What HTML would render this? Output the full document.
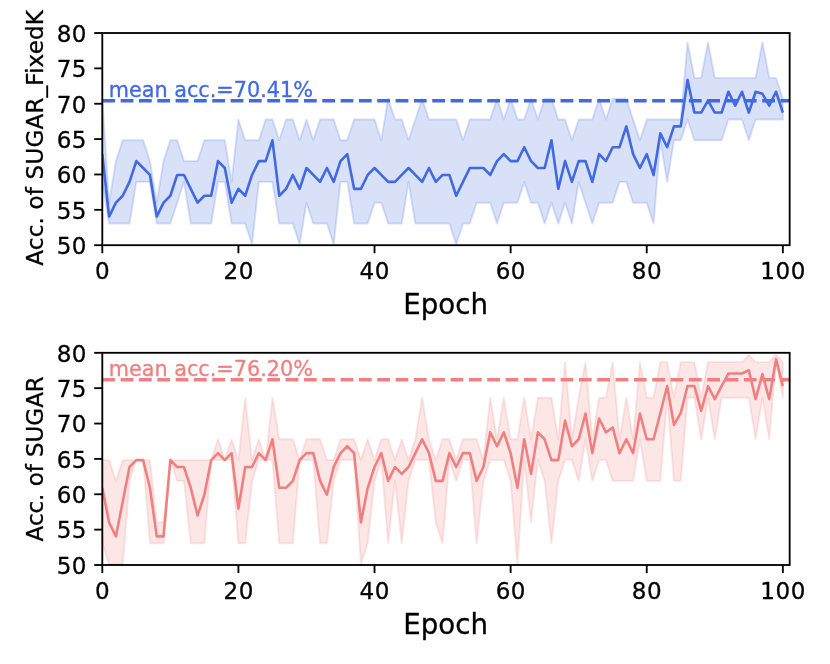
<!DOCTYPE html>
<html><head><meta charset="utf-8"><title>Accuracy</title>
<style>
html,body{margin:0;padding:0;background:#fff;}
svg{display:block;}
text{font-family:"DejaVu Sans","Liberation Sans",sans-serif;}
text.k{stroke:#000;stroke-width:0.3px;}
</style></head><body>
<svg width="830" height="664" viewBox="0 0 830 664">
<rect x="0" y="0" width="830" height="664" fill="#fff"/>
<clipPath id="c245"><rect x="102.30" y="33.01" width="687.36" height="212.19"/></clipPath>
<g clip-path="url(#c245)">
<polygon points="102.30,181.89 102.30,98.68 109.11,202.69 115.91,161.09 122.72,140.29 129.52,140.29 136.33,140.29 143.13,140.29 149.94,161.09 156.74,202.69 163.55,161.09 170.36,140.29 177.16,140.29 183.97,161.09 190.77,161.09 197.58,161.09 204.38,140.29 211.19,140.29 217.99,140.29 224.80,140.29 231.60,181.89 238.41,119.48 245.22,140.29 252.02,140.29 258.83,140.29 265.63,119.48 272.44,119.48 279.24,140.29 286.05,119.48 292.85,119.48 299.66,140.29 306.47,119.48 313.27,140.29 320.08,119.48 326.88,119.48 333.69,119.48 340.49,140.29 347.30,140.29 354.10,119.48 360.91,119.48 367.71,119.48 374.52,119.48 381.33,140.29 388.13,98.68 394.94,119.48 401.74,119.48 408.55,140.29 415.35,119.48 422.16,98.68 428.96,119.48 435.77,119.48 442.58,119.48 449.38,119.48 456.19,119.48 462.99,140.29 469.80,119.48 476.60,119.48 483.41,119.48 490.21,119.48 497.02,98.68 503.82,119.48 510.63,98.68 517.44,119.48 524.24,119.48 531.05,98.68 537.85,119.48 544.66,98.68 551.46,98.68 558.27,119.48 565.07,119.48 571.88,140.29 578.69,119.48 585.49,119.48 592.30,119.48 599.10,98.68 605.91,119.48 612.71,98.68 619.52,98.68 626.32,98.68 633.13,119.48 639.93,140.29 646.74,119.48 653.55,119.48 660.35,119.48 667.16,119.48 673.96,119.48 680.77,119.48 687.57,42.37 694.38,77.88 701.18,77.88 707.99,42.37 714.79,77.88 721.60,77.88 728.41,77.88 735.21,77.88 742.02,77.88 748.82,77.88 755.63,77.88 762.43,42.37 769.24,77.88 776.04,77.88 782.85,98.68 782.85,119.48 782.85,119.48 776.04,119.48 769.24,119.48 762.43,119.48 755.63,119.48 748.82,140.29 742.02,119.48 735.21,119.48 728.41,119.48 721.60,140.29 714.79,140.29 707.99,140.29 701.18,140.29 694.38,140.29 687.57,119.48 680.77,140.29 673.96,140.29 667.16,181.89 660.35,140.29 653.55,223.50 646.74,202.69 639.93,202.69 633.13,202.69 626.32,181.89 619.52,181.89 612.71,202.69 605.91,202.69 599.10,202.69 592.30,223.50 585.49,202.69 578.69,181.89 571.88,223.50 565.07,202.69 558.27,223.50 551.46,202.69 544.66,223.50 537.85,202.69 531.05,202.69 524.24,181.89 517.44,202.69 510.63,202.69 503.82,202.69 497.02,223.50 490.21,202.69 483.41,202.69 476.60,202.69 469.80,223.50 462.99,223.50 456.19,244.30 449.38,223.50 442.58,223.50 435.77,223.50 428.96,223.50 422.16,223.50 415.35,223.50 408.55,181.89 401.74,223.50 394.94,223.50 388.13,223.50 381.33,202.69 374.52,202.69 367.71,223.50 360.91,223.50 354.10,223.50 347.30,181.89 340.49,181.89 333.69,244.30 326.88,223.50 320.08,223.50 313.27,223.50 306.47,202.69 299.66,244.30 292.85,223.50 286.05,223.50 279.24,223.50 272.44,181.89 265.63,181.89 258.83,181.89 252.02,244.30 245.22,223.50 238.41,223.50 231.60,223.50 224.80,181.89 217.99,181.89 211.19,223.50 204.38,223.50 197.58,223.50 190.77,223.50 183.97,181.89 177.16,202.69 170.36,223.50 163.55,223.50 156.74,223.50 149.94,181.89 143.13,181.89 136.33,181.89 129.52,223.50 122.72,223.50 115.91,223.50 109.11,223.50 102.30,181.89" fill="#4169e1" fill-opacity="0.2" stroke="#4169e1" stroke-opacity="0.2" stroke-width="1.90" stroke-linejoin="round"/>
<polyline points="102.30,154.15 109.11,216.56 115.91,202.69 122.72,195.76 129.52,181.89 136.33,161.09 143.13,168.02 149.94,174.96 156.74,216.56 163.55,202.69 170.36,195.76 177.16,174.96 183.97,174.96 190.77,188.83 197.58,202.69 204.38,195.76 211.19,195.76 217.99,161.09 224.80,168.02 231.60,202.69 238.41,188.83 245.22,195.76 252.02,174.96 258.83,161.09 265.63,161.09 272.44,140.29 279.24,195.76 286.05,188.83 292.85,174.96 299.66,188.83 306.47,168.02 313.27,174.96 320.08,181.89 326.88,168.02 333.69,181.89 340.49,161.09 347.30,154.15 354.10,188.83 360.91,188.83 367.71,174.96 374.52,168.02 381.33,174.96 388.13,181.89 394.94,181.89 401.74,174.96 408.55,168.02 415.35,174.96 422.16,181.89 428.96,168.02 435.77,181.89 442.58,174.96 449.38,174.96 456.19,195.76 462.99,181.89 469.80,168.02 476.60,168.02 483.41,168.02 490.21,174.96 497.02,161.09 503.82,154.15 510.63,161.09 517.44,161.09 524.24,147.22 531.05,161.09 537.85,168.02 544.66,168.02 551.46,140.29 558.27,188.83 565.07,161.09 571.88,181.89 578.69,161.09 585.49,161.09 592.30,181.89 599.10,154.15 605.91,161.09 612.71,147.22 619.52,147.22 626.32,126.42 633.13,154.15 639.93,168.02 646.74,154.15 653.55,174.96 660.35,133.35 667.16,147.22 673.96,126.42 680.77,126.42 687.57,79.91 694.38,112.55 701.18,112.55 707.99,100.71 714.79,112.55 721.60,112.55 728.41,91.75 735.21,105.61 742.02,91.75 748.82,112.55 755.63,91.75 762.43,93.78 769.24,105.61 776.04,91.75 782.85,112.55" fill="none" stroke="#4169e1" stroke-width="2.60" stroke-linejoin="round" stroke-linecap="butt"/>
<line x1="102.30" y1="100.84" x2="789.66" y2="100.84" stroke="#4169e1" stroke-width="3.46" stroke-dasharray="12.8 5.53"/>
</g>
<text x="108.81" y="97.04" font-size="20.75" fill="#4169e1" stroke="#4169e1" stroke-width="0.3">mean acc.=70.41%</text>
<rect x="102.30" y="33.01" width="687.36" height="212.19" fill="none" stroke="#000" stroke-width="1.84" stroke-linejoin="miter"/>
<line x1="102.30" y1="245.20" x2="102.30" y2="253.27" stroke="#000" stroke-width="1.84"/>
<text class="k" x="102.55" y="279.00" font-size="23.06" letter-spacing="0.5" text-anchor="middle">0</text>
<line x1="238.41" y1="245.20" x2="238.41" y2="253.27" stroke="#000" stroke-width="1.84"/>
<text class="k" x="238.66" y="279.00" font-size="23.06" letter-spacing="0.5" text-anchor="middle">20</text>
<line x1="374.52" y1="245.20" x2="374.52" y2="253.27" stroke="#000" stroke-width="1.84"/>
<text class="k" x="374.77" y="279.00" font-size="23.06" letter-spacing="0.5" text-anchor="middle">40</text>
<line x1="510.63" y1="245.20" x2="510.63" y2="253.27" stroke="#000" stroke-width="1.84"/>
<text class="k" x="510.88" y="279.00" font-size="23.06" letter-spacing="0.5" text-anchor="middle">60</text>
<line x1="646.74" y1="245.20" x2="646.74" y2="253.27" stroke="#000" stroke-width="1.84"/>
<text class="k" x="646.99" y="279.00" font-size="23.06" letter-spacing="0.5" text-anchor="middle">80</text>
<line x1="782.85" y1="245.20" x2="782.85" y2="253.27" stroke="#000" stroke-width="1.84"/>
<text class="k" x="783.10" y="279.00" font-size="23.06" letter-spacing="0.5" text-anchor="middle">100</text>
<line x1="94.23" y1="245.20" x2="102.30" y2="245.20" stroke="#000" stroke-width="1.84"/>
<text class="k" x="87.00" y="254.00" font-size="23.06" letter-spacing="0.5" text-anchor="end">50</text>
<line x1="94.23" y1="209.83" x2="102.30" y2="209.83" stroke="#000" stroke-width="1.84"/>
<text class="k" x="87.00" y="218.63" font-size="23.06" letter-spacing="0.5" text-anchor="end">55</text>
<line x1="94.23" y1="174.47" x2="102.30" y2="174.47" stroke="#000" stroke-width="1.84"/>
<text class="k" x="87.00" y="183.27" font-size="23.06" letter-spacing="0.5" text-anchor="end">60</text>
<line x1="94.23" y1="139.10" x2="102.30" y2="139.10" stroke="#000" stroke-width="1.84"/>
<text class="k" x="87.00" y="147.91" font-size="23.06" letter-spacing="0.5" text-anchor="end">65</text>
<line x1="94.23" y1="103.74" x2="102.30" y2="103.74" stroke="#000" stroke-width="1.84"/>
<text class="k" x="87.00" y="112.54" font-size="23.06" letter-spacing="0.5" text-anchor="end">70</text>
<line x1="94.23" y1="68.37" x2="102.30" y2="68.37" stroke="#000" stroke-width="1.84"/>
<text class="k" x="87.00" y="77.17" font-size="23.06" letter-spacing="0.5" text-anchor="end">75</text>
<line x1="94.23" y1="33.01" x2="102.30" y2="33.01" stroke="#000" stroke-width="1.84"/>
<text class="k" x="87.00" y="41.81" font-size="23.06" letter-spacing="0.5" text-anchor="end">80</text>
<text class="k" x="445.68" y="313.80" font-size="27.67" text-anchor="middle">Epoch</text>
<text class="k" transform="translate(42.5,137.85) rotate(-90)" font-size="23.06" text-anchor="middle" textLength="255.7" lengthAdjust="spacing">Acc. of SUGAR_FixedK</text>
<clipPath id="c565"><rect x="102.30" y="352.81" width="687.36" height="212.19"/></clipPath>
<g clip-path="url(#c565)">
<polygon points="102.30,543.30 102.30,460.09 109.11,460.09 115.91,480.89 122.72,460.09 129.52,460.09 136.33,460.09 143.13,460.09 149.94,460.09 156.74,522.49 163.55,522.49 170.36,460.09 177.16,460.09 183.97,460.09 190.77,460.09 197.58,460.09 204.38,460.09 211.19,460.09 217.99,439.28 224.80,460.09 231.60,439.28 238.41,460.09 245.22,397.68 252.02,460.09 258.83,439.28 265.63,460.09 272.44,397.68 279.24,439.28 286.05,439.28 292.85,439.28 299.66,460.09 306.47,439.28 313.27,439.28 320.08,439.28 326.88,460.09 333.69,460.09 340.49,439.28 347.30,439.28 354.10,439.28 360.91,460.09 367.71,439.28 374.52,460.09 381.33,439.28 388.13,439.28 394.94,460.09 401.74,439.28 408.55,460.09 415.35,439.28 422.16,397.68 428.96,439.28 435.77,460.09 442.58,439.28 449.38,439.28 456.19,460.09 462.99,439.28 469.80,439.28 476.60,439.28 483.41,460.09 490.21,397.68 497.02,439.28 503.82,397.68 510.63,439.28 517.44,439.28 524.24,397.68 531.05,439.28 537.85,397.68 544.66,397.68 551.46,397.68 558.27,439.28 565.07,362.17 571.88,439.28 578.69,397.68 585.49,362.17 592.30,439.28 599.10,397.68 605.91,397.68 612.71,362.17 619.52,439.28 626.32,397.68 633.13,439.28 639.93,362.17 646.74,397.68 653.55,397.68 660.35,362.17 667.16,362.17 673.96,397.68 680.77,362.17 687.57,362.17 694.38,362.17 701.18,397.68 707.99,362.17 714.79,362.17 721.60,362.17 728.41,362.17 735.21,362.17 742.02,362.17 748.82,354.95 755.63,362.17 762.43,362.17 769.24,362.17 776.04,354.95 782.85,362.17 782.85,397.68 782.85,397.68 776.04,362.17 769.24,439.28 762.43,397.68 755.63,439.28 748.82,397.68 742.02,397.68 735.21,397.68 728.41,397.68 721.60,397.68 714.79,439.28 707.99,397.68 701.18,439.28 694.38,397.68 687.57,397.68 680.77,480.89 673.96,480.89 667.16,397.68 660.35,480.89 653.55,480.89 646.74,480.89 639.93,439.28 633.13,480.89 626.32,480.89 619.52,480.89 612.71,480.89 605.91,460.09 599.10,460.09 592.30,480.89 585.49,439.28 578.69,480.89 571.88,460.09 565.07,460.09 558.27,480.89 551.46,543.30 544.66,480.89 537.85,460.09 531.05,522.49 524.24,460.09 517.44,564.10 510.63,480.89 503.82,460.09 497.02,460.09 490.21,460.09 483.41,480.89 476.60,543.30 469.80,460.09 462.99,460.09 456.19,480.89 449.38,460.09 442.58,543.30 435.77,522.49 428.96,460.09 422.16,460.09 415.35,460.09 408.55,480.89 401.74,543.30 394.94,480.89 388.13,543.30 381.33,460.09 374.52,480.89 367.71,543.30 360.91,564.10 354.10,460.09 347.30,460.09 340.49,460.09 333.69,480.89 326.88,543.30 320.08,543.30 313.27,460.09 306.47,460.09 299.66,460.09 292.85,543.30 286.05,543.30 279.24,543.30 272.44,460.09 265.63,460.09 258.83,460.09 252.02,480.89 245.22,543.30 238.41,543.30 231.60,460.09 224.80,460.09 217.99,460.09 211.19,460.09 204.38,543.30 197.58,543.30 190.77,543.30 183.97,480.89 177.16,480.89 170.36,460.09 163.55,543.30 156.74,543.30 149.94,543.30 143.13,460.09 136.33,460.09 129.52,480.89 122.72,564.10 115.91,564.10 109.11,564.10 102.30,543.30" fill="#f08080" fill-opacity="0.2" stroke="#f08080" stroke-opacity="0.2" stroke-width="1.90" stroke-linejoin="round"/>
<polyline points="102.30,487.82 109.11,522.49 115.91,536.36 122.72,501.69 129.52,467.02 136.33,460.09 143.13,460.09 149.94,487.82 156.74,536.36 163.55,536.36 170.36,460.09 177.16,467.02 183.97,467.02 190.77,487.82 197.58,515.56 204.38,494.76 211.19,460.09 217.99,453.15 224.80,460.09 231.60,453.15 238.41,508.63 245.22,467.02 252.02,467.02 258.83,453.15 265.63,460.09 272.44,439.28 279.24,487.82 286.05,487.82 292.85,480.89 299.66,460.09 306.47,453.15 313.27,453.15 320.08,480.89 326.88,494.76 333.69,467.02 340.49,453.15 347.30,446.22 354.10,453.15 360.91,522.49 367.71,487.82 374.52,467.02 381.33,453.15 388.13,480.89 394.94,467.02 401.74,473.95 408.55,467.02 415.35,453.15 422.16,439.28 428.96,453.15 435.77,480.89 442.58,480.89 449.38,453.15 456.19,467.02 462.99,453.15 469.80,453.15 476.60,480.89 483.41,467.02 490.21,432.35 497.02,446.22 503.82,432.35 510.63,453.15 517.44,487.82 524.24,439.28 531.05,473.95 537.85,432.35 544.66,439.28 551.46,460.09 558.27,460.09 565.07,420.51 571.88,446.22 578.69,439.28 585.49,413.58 592.30,453.15 599.10,418.48 605.91,432.35 612.71,427.45 619.52,453.15 626.32,439.28 633.13,453.15 639.93,413.58 646.74,439.28 653.55,439.28 660.35,413.28 667.16,386.05 673.96,424.95 680.77,412.93 687.57,386.05 694.38,386.05 701.18,410.81 707.99,386.05 714.79,399.14 721.60,386.05 728.41,373.53 735.21,373.53 742.02,373.53 748.82,370.28 755.63,399.14 762.43,374.03 769.24,399.14 776.04,359.17 782.85,386.19" fill="none" stroke="#f08080" stroke-width="2.60" stroke-linejoin="round" stroke-linecap="butt"/>
<line x1="102.30" y1="379.69" x2="789.66" y2="379.69" stroke="#f08080" stroke-width="3.46" stroke-dasharray="12.8 5.53"/>
</g>
<text x="108.81" y="375.89" font-size="20.75" fill="#f08080" stroke="#f08080" stroke-width="0.3">mean acc.=76.20%</text>
<rect x="102.30" y="352.81" width="687.36" height="212.19" fill="none" stroke="#000" stroke-width="1.84" stroke-linejoin="miter"/>
<line x1="102.30" y1="565.00" x2="102.30" y2="573.07" stroke="#000" stroke-width="1.84"/>
<text class="k" x="102.55" y="598.80" font-size="23.06" letter-spacing="0.5" text-anchor="middle">0</text>
<line x1="238.41" y1="565.00" x2="238.41" y2="573.07" stroke="#000" stroke-width="1.84"/>
<text class="k" x="238.66" y="598.80" font-size="23.06" letter-spacing="0.5" text-anchor="middle">20</text>
<line x1="374.52" y1="565.00" x2="374.52" y2="573.07" stroke="#000" stroke-width="1.84"/>
<text class="k" x="374.77" y="598.80" font-size="23.06" letter-spacing="0.5" text-anchor="middle">40</text>
<line x1="510.63" y1="565.00" x2="510.63" y2="573.07" stroke="#000" stroke-width="1.84"/>
<text class="k" x="510.88" y="598.80" font-size="23.06" letter-spacing="0.5" text-anchor="middle">60</text>
<line x1="646.74" y1="565.00" x2="646.74" y2="573.07" stroke="#000" stroke-width="1.84"/>
<text class="k" x="646.99" y="598.80" font-size="23.06" letter-spacing="0.5" text-anchor="middle">80</text>
<line x1="782.85" y1="565.00" x2="782.85" y2="573.07" stroke="#000" stroke-width="1.84"/>
<text class="k" x="783.10" y="598.80" font-size="23.06" letter-spacing="0.5" text-anchor="middle">100</text>
<line x1="94.23" y1="565.00" x2="102.30" y2="565.00" stroke="#000" stroke-width="1.84"/>
<text class="k" x="87.00" y="573.80" font-size="23.06" letter-spacing="0.5" text-anchor="end">50</text>
<line x1="94.23" y1="529.63" x2="102.30" y2="529.63" stroke="#000" stroke-width="1.84"/>
<text class="k" x="87.00" y="538.43" font-size="23.06" letter-spacing="0.5" text-anchor="end">55</text>
<line x1="94.23" y1="494.27" x2="102.30" y2="494.27" stroke="#000" stroke-width="1.84"/>
<text class="k" x="87.00" y="503.07" font-size="23.06" letter-spacing="0.5" text-anchor="end">60</text>
<line x1="94.23" y1="458.90" x2="102.30" y2="458.90" stroke="#000" stroke-width="1.84"/>
<text class="k" x="87.00" y="467.70" font-size="23.06" letter-spacing="0.5" text-anchor="end">65</text>
<line x1="94.23" y1="423.54" x2="102.30" y2="423.54" stroke="#000" stroke-width="1.84"/>
<text class="k" x="87.00" y="432.34" font-size="23.06" letter-spacing="0.5" text-anchor="end">70</text>
<line x1="94.23" y1="388.17" x2="102.30" y2="388.17" stroke="#000" stroke-width="1.84"/>
<text class="k" x="87.00" y="396.97" font-size="23.06" letter-spacing="0.5" text-anchor="end">75</text>
<line x1="94.23" y1="352.81" x2="102.30" y2="352.81" stroke="#000" stroke-width="1.84"/>
<text class="k" x="87.00" y="361.61" font-size="23.06" letter-spacing="0.5" text-anchor="end">80</text>
<text class="k" x="445.68" y="633.60" font-size="27.67" text-anchor="middle">Epoch</text>
<text class="k" transform="translate(42.5,458.75) rotate(-90)" font-size="23.06" text-anchor="middle" textLength="165.3" lengthAdjust="spacing">Acc. of SUGAR</text>
</svg>
</body></html>
